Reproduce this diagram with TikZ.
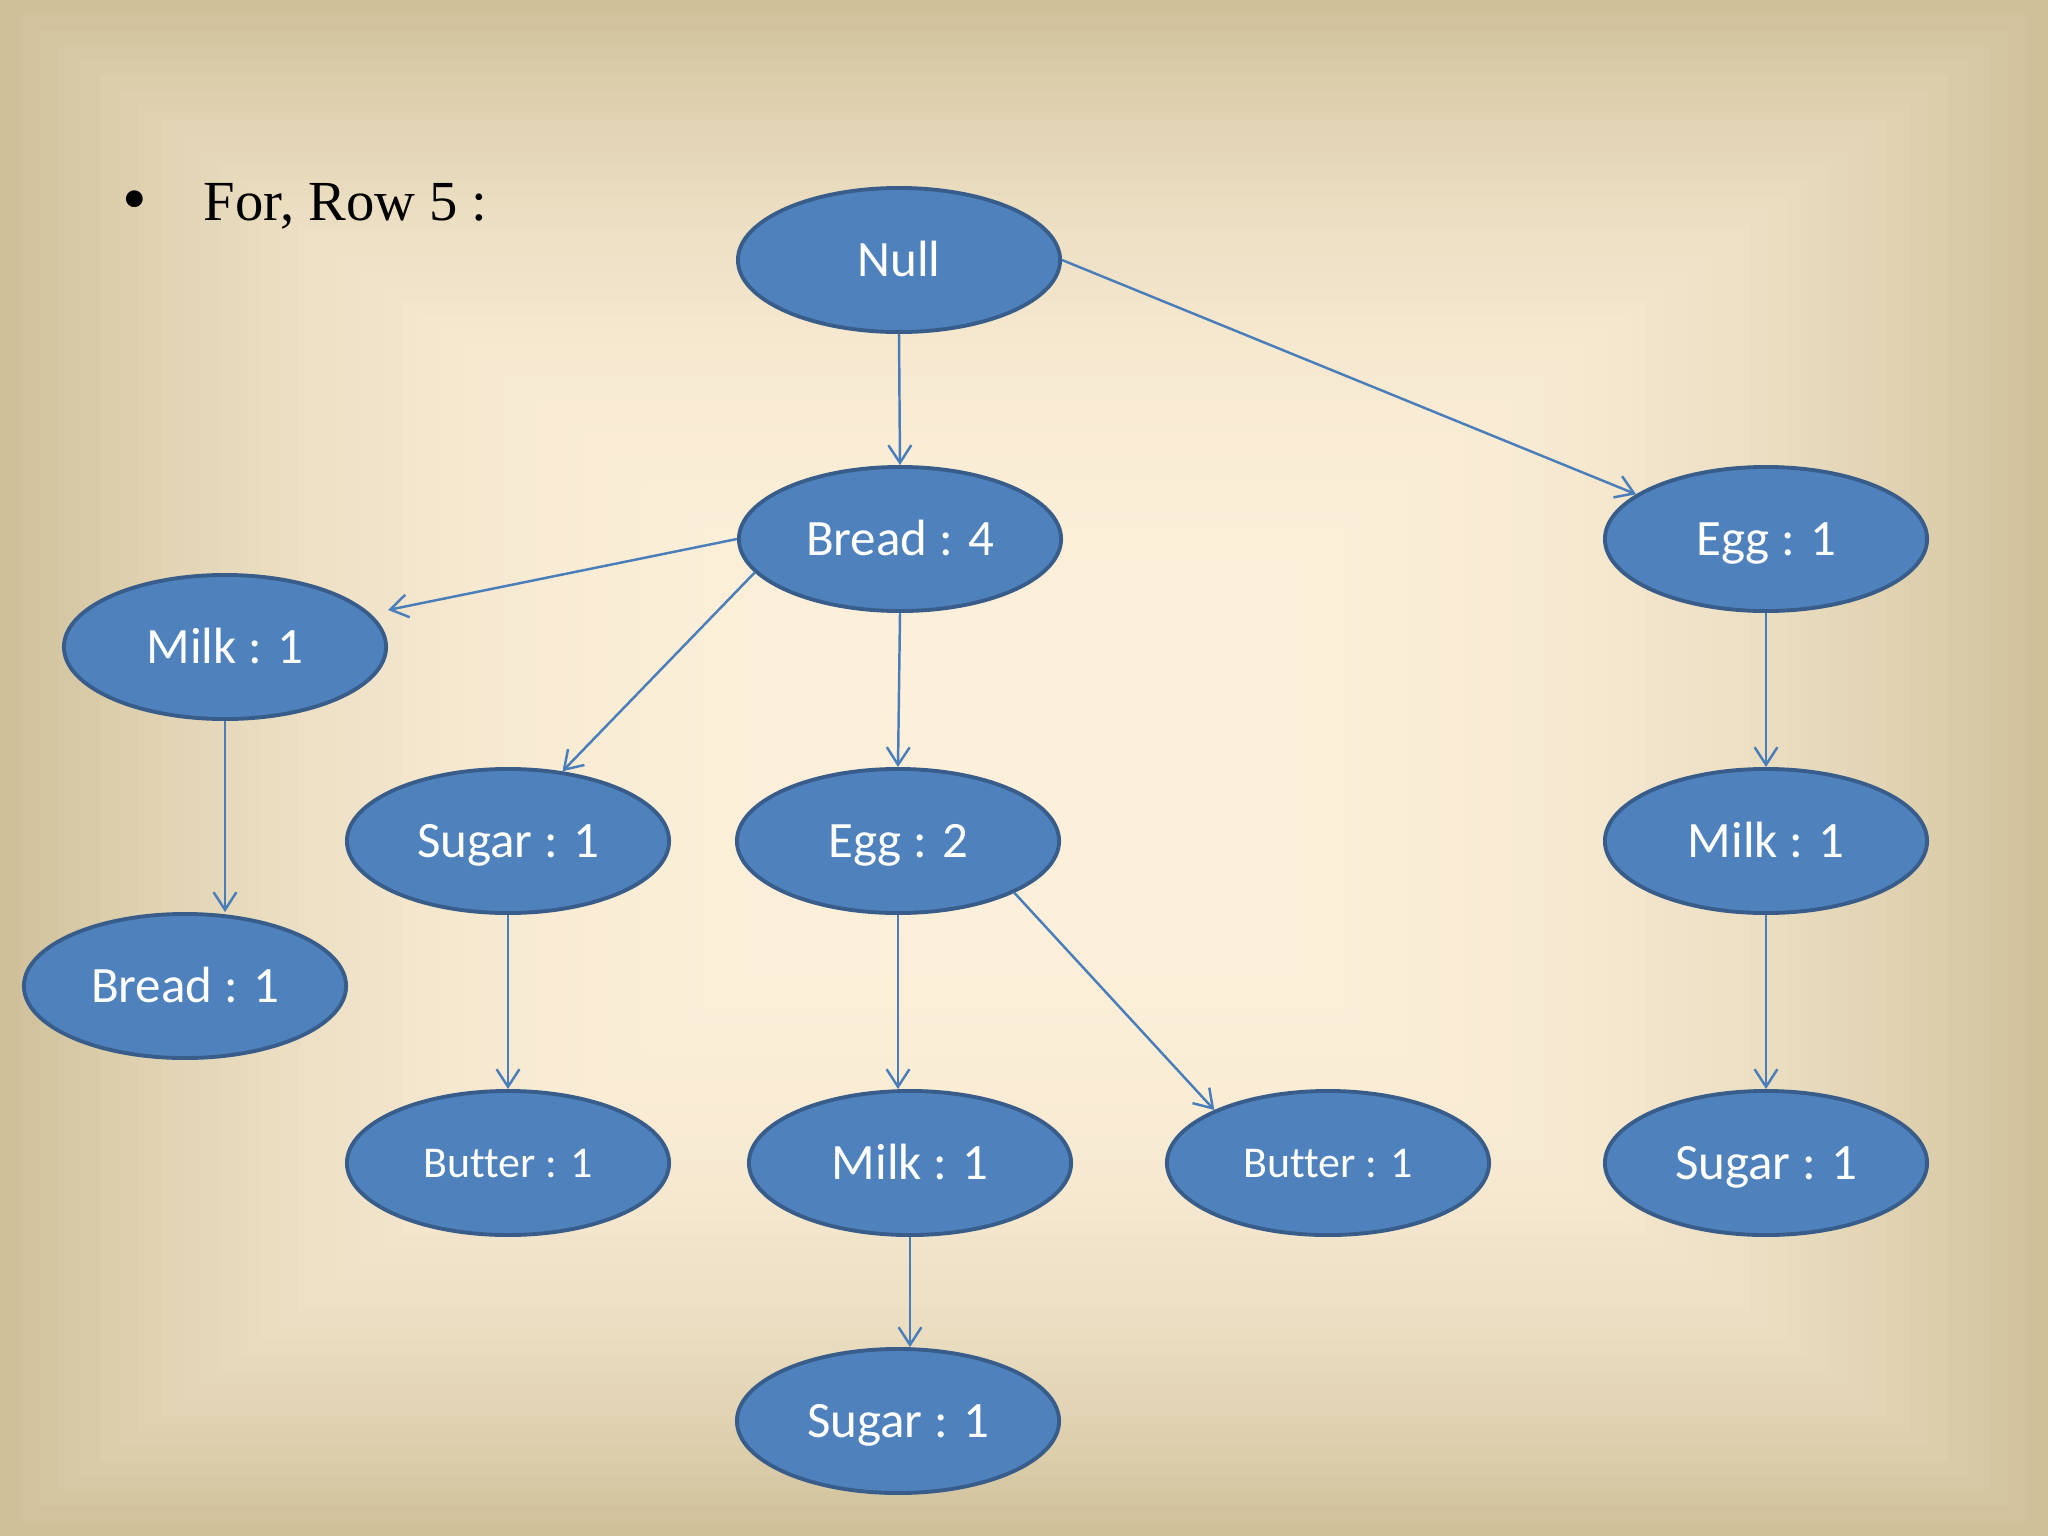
\documentclass[tikz,border=0pt]{standalone}
\usepackage{fontspec}
\setmainfont{Liberation Serif}
\newfontfamily\nodefont[Ligatures=NoCommon]{Carlito}
\usetikzlibrary{shapes.geometric,arrows.meta}
\definecolor{bgtan}{HTML}{CFC09A}
\definecolor{bgcream}{HTML}{FDF0DA}
\definecolor{nodefill}{HTML}{4F81BD}
\definecolor{nodeline}{HTML}{385D8A}
\definecolor{edgecol}{HTML}{4A7EBB}
\begin{document}
\begin{tikzpicture}[x=0.01cm,y=-0.01cm,
  tnode/.style={ellipse, draw=nodeline, fill=nodefill, line width=1.1pt,
    minimum width=3.22cm, minimum height=1.44cm, inner sep=0pt, text=white,
    font=\nodefont\fontsize{14.5}{16}\selectfont, text height=9.3pt, text depth=0pt},
  smalltext/.style={font=\nodefont\fontsize{12.5}{14}\selectfont, text height=8.05pt},
  link/.style={draw=edgecol, line width=0.7pt, -{Straight Barb[length=5pt,width=6.5pt]}}]
\useasboundingbox (0,0) rectangle (2048,1536);
\foreach \i in {0,...,50}{
  \pgfmathsetmacro\p{100*(1-(1-\i/50)^3)}
  \fill[bgcream!\p!bgtan] (\i*20.0784, \i*15.0588) rectangle (2048-\i*20.0784, 1536-\i*15.0588);
}
% title
\node[anchor=base, inner sep=0pt, font=\fontsize{20}{22}\selectfont] (bullet) at (135,222) {•};
\node[anchor=base west, inner sep=0pt, font=\fontsize{16.1}{19}\selectfont] (title) at (203,220) {For, Row 5 :};
% nodes
\node[tnode] (null) at (899,260) {Null};
\node[tnode] (bread4) at (900,539) {Bread : 4};
\node[tnode] (egg1) at (1766,539) {Egg : 1};
\node[tnode] (milkL) at (225,647) {Milk : 1};
\node[tnode] (sugar) at (508,841) {Sugar : 1};
\node[tnode] (egg2) at (898,841) {Egg : 2};
\node[tnode] (milkR) at (1766,841) {Milk : 1};
\node[tnode] (bread1) at (185,986) {Bread : 1};
\node[tnode,smalltext] (butterL) at (508,1163) {Butter : 1};
\node[tnode] (milkM) at (910,1163) {Milk : 1};
\node[tnode,smalltext] (butterR) at (1328,1163) {Butter : 1};
\node[tnode] (sugarR) at (1766,1163) {Sugar : 1};
\node[tnode] (sugarB) at (898,1421) {Sugar : 1};
% edges
\draw[link] (null.south) -- (bread4.north);
\draw[link] (null.east) -- (egg1.161);
\draw[link] (bread4.west) -- ([yshift=0.37cm]milkL.east);
\draw[link] (bread4.193) -- (sugar.52);
\draw[link] (bread4.south) -- (egg2.north);
\draw[link] (milkL.south) -- (milkL.south |- bread1.north);
\draw[link] (sugar.south) -- (butterL.north);
\draw[link] (egg2.south) -- (egg2.south |- milkM.north);
\draw[link] (egg2.-24) -- (butterR.155);
\draw[link] (milkM.south) -- (milkM.south |- sugarB.north);
\draw[link] (egg1.south) -- (milkR.north);
\draw[link] (milkR.south) -- (sugarR.north);
\end{tikzpicture}
\end{document}
